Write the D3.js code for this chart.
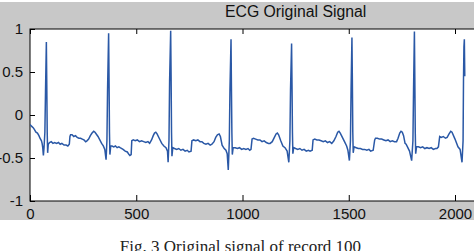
<!DOCTYPE html>
<html lang="en">
  <head>
    <meta charset="UTF-8" />
    <title>ECG Original Signal</title>
    <script src="https://cdn.jsdelivr.net/npm/d3@7"></script>
    <style>
      html, body { margin: 0; padding: 0; background: #fff; overflow: hidden; }
      svg { display: block; }
    </style>
  </head>
  <body>
    <div id="chart"></div>
    <script>
      // chart texts
      const chartTitle = "ECG Original Signal";
      const caption = "Fig. 3 Original signal of record 100";

      // axis ticks
      const xTicks = [0, 500, 1000, 1500, 2000, 2500];
      const yTicks = [-1, -0.5, 0, 0.5, 1];

      // ECG trace: [sample, amplitude]
      const ecgTrace = [
        [0, -0.11], [7, -0.13], [16, -0.15], [21, -0.17], [28, -0.2], [35, -0.21],
        [42, -0.24], [47, -0.27], [54, -0.3], [57, -0.33], [60, -0.38], [63, -0.47],
        [66, -0.38], [70, -0.2], [73, 0.27], [77, 0.85], [79, 0.35], [81, -0.2],
        [83, -0.44], [86, -0.34], [92, -0.32], [100, -0.31], [108, -0.33], [116, -0.32],
        [125, -0.33], [134, -0.32], [142, -0.34], [150, -0.33], [160, -0.35], [170, -0.35],
        [178, -0.36], [185, -0.34], [188, -0.25], [191, -0.23], [198, -0.23], [206, -0.25],
        [214, -0.24], [222, -0.26], [230, -0.27], [238, -0.27], [246, -0.28], [254, -0.29],
        [262, -0.31], [268, -0.3], [276, -0.28], [284, -0.24], [292, -0.21], [300, -0.19],
        [306, -0.2], [320, -0.25], [337, -0.33], [345, -0.36], [352, -0.4], [358, -0.52],
        [362, -0.3], [365, 0.3], [370, 0.95], [372, 0.4], [374, -0.2], [376, -0.46],
        [380, -0.36], [386, -0.36], [394, -0.37], [402, -0.36], [410, -0.38], [418, -0.37],
        [424, -0.38], [438, -0.4], [448, -0.42], [458, -0.43], [466, -0.46], [470, -0.47],
        [476, -0.46], [479, -0.3], [486, -0.29], [495, -0.3], [505, -0.29], [515, -0.31],
        [525, -0.3], [535, -0.31], [545, -0.32], [555, -0.31], [563, -0.33], [572, -0.29],
        [580, -0.24], [586, -0.21], [592, -0.2], [598, -0.22], [608, -0.27], [620, -0.33],
        [630, -0.36], [640, -0.38], [647, -0.42], [650, -0.55], [654, -0.3], [657, 0.4],
        [662, 0.98], [664, 0.45], [666, -0.2], [668, -0.48], [672, -0.38], [680, -0.39],
        [690, -0.4], [700, -0.39], [710, -0.41], [720, -0.4], [730, -0.42], [740, -0.41],
        [748, -0.43], [758, -0.42], [762, -0.3], [770, -0.29], [780, -0.3], [790, -0.29],
        [800, -0.31], [809, -0.31], [818, -0.33], [828, -0.34], [838, -0.33], [848, -0.35],
        [856, -0.34], [866, -0.31], [874, -0.26], [882, -0.23], [890, -0.22], [896, -0.25],
        [904, -0.35], [914, -0.39], [922, -0.41], [928, -0.45], [933, -0.64], [938, -0.3],
        [941, 0.3], [946, 0.88], [948, 0.3], [950, -0.2], [952, -0.46], [956, -0.38],
        [966, -0.38], [976, -0.39], [986, -0.38], [996, -0.4], [1006, -0.39], [1016, -0.4],
        [1026, -0.39], [1034, -0.41], [1040, -0.4], [1045, -0.28], [1052, -0.27], [1062, -0.28],
        [1072, -0.29], [1082, -0.29], [1092, -0.31], [1102, -0.3], [1112, -0.32], [1122, -0.33],
        [1130, -0.33], [1140, -0.31], [1150, -0.26], [1158, -0.22], [1164, -0.21], [1170, -0.23],
        [1180, -0.3], [1190, -0.36], [1200, -0.38], [1210, -0.42], [1218, -0.55], [1223, -0.3],
        [1226, 0.3], [1231, 0.83], [1233, 0.35], [1235, -0.2], [1237, -0.45], [1241, -0.38],
        [1250, -0.39], [1260, -0.4], [1270, -0.39], [1280, -0.41], [1290, -0.4], [1300, -0.42],
        [1310, -0.41], [1318, -0.42], [1328, -0.41], [1332, -0.29], [1340, -0.28], [1350, -0.29],
        [1360, -0.29], [1370, -0.3], [1380, -0.31], [1390, -0.3], [1400, -0.32], [1410, -0.31],
        [1420, -0.33], [1430, -0.3], [1440, -0.25], [1448, -0.2], [1454, -0.19], [1460, -0.21],
        [1470, -0.26], [1480, -0.31], [1490, -0.36], [1496, -0.41], [1503, -0.53], [1508, -0.3],
        [1511, 0.3], [1515, 0.9], [1517, 0.4], [1519, -0.2], [1521, -0.44], [1525, -0.37],
        [1535, -0.38], [1545, -0.39], [1555, -0.39], [1565, -0.4], [1575, -0.4], [1585, -0.41],
        [1595, -0.4], [1603, -0.42], [1615, -0.41], [1622, -0.29], [1626, -0.27], [1635, -0.27],
        [1645, -0.28], [1655, -0.28], [1665, -0.29], [1675, -0.3], [1685, -0.29], [1695, -0.31],
        [1705, -0.3], [1715, -0.31], [1725, -0.31], [1732, -0.27], [1740, -0.21], [1746, -0.19],
        [1752, -0.2], [1758, -0.24], [1765, -0.33], [1770, -0.34], [1778, -0.38], [1786, -0.42],
        [1796, -0.53], [1802, -0.3], [1805, 0.3], [1809, 0.97], [1811, 0.4], [1813, -0.2],
        [1815, -0.45], [1819, -0.37], [1828, -0.37], [1838, -0.38], [1848, -0.37], [1858, -0.39],
        [1868, -0.38], [1878, -0.39], [1888, -0.38], [1898, -0.4], [1908, -0.39], [1915, -0.39],
        [1922, -0.37], [1928, -0.25], [1935, -0.26], [1945, -0.25], [1955, -0.27], [1963, -0.26],
        [1972, -0.22], [1980, -0.19], [1986, -0.2], [2000, -0.28], [2014, -0.37], [2024, -0.4],
        [2033, -0.55], [2038, -0.3], [2040, 0.41], [2042, 0.79], [2044, 0.88], [2046, 0.45]
      ];

      const W = 474, H = 251;
      const plot = { left: 30, top: 29, bottom: 201, right: 561.25 };

      const svg = d3.select("#chart").append("svg")
        .attr("width", W).attr("height", H);

      // figure background (MATLAB grey) and white caption strip
      svg.append("rect").attr("width", W).attr("height", H).attr("fill", "#fff");
      svg.append("rect").attr("x", 0).attr("y", 2).attr("width", W).attr("height", 218)
        .attr("fill", "#c8c8c8");

      const x = d3.scaleLinear().domain([0, 2500]).range([plot.left, plot.right]);
      const y = d3.scaleLinear().domain([-1, 1]).range([plot.bottom, plot.top]);

      // axes box
      svg.append("rect")
        .attr("x", plot.left).attr("y", plot.top)
        .attr("width", plot.right - plot.left).attr("height", plot.bottom - plot.top)
        .attr("fill", "#fff").attr("stroke", "#000").attr("stroke-width", 1);

      svg.append("clipPath").attr("id", "clip")
        .append("rect")
        .attr("x", plot.left).attr("y", plot.top)
        .attr("width", plot.right - plot.left).attr("height", plot.bottom - plot.top);

      // the trace
      const line = d3.line().x(d => x(d[0])).y(d => y(d[1]));
      svg.append("path")
        .datum(ecgTrace)
        .attr("clip-path", "url(#clip)")
        .attr("d", line)
        .attr("fill", "none")
        .attr("stroke", "#2a58a6")
        .attr("stroke-width", 1.5)
        .attr("stroke-linejoin", "miter");

      const fmt = d => String(d);
      const font = "'Liberation Sans', Arial, Helvetica, sans-serif";

      const styleAxis = g => {
        g.select(".domain").remove();
        g.selectAll(".tick line").attr("stroke", "#000");
        g.selectAll(".tick text")
          .attr("fill", "#111")
          .style("font-family", font)
          .style("font-size", "15px");
      };

      // bottom axis, ticks point inward
      svg.append("g")
        .attr("transform", `translate(0,${plot.bottom})`)
        .call(d3.axisBottom(x).tickValues(xTicks).tickFormat(fmt)
          .tickSizeInner(-6).tickSizeOuter(0).tickPadding(7))
        .call(styleAxis);

      // top axis, ticks only
      svg.append("g")
        .attr("transform", `translate(0,${plot.top})`)
        .call(d3.axisTop(x).tickValues(xTicks).tickFormat("")
          .tickSizeInner(-5).tickSizeOuter(0))
        .call(styleAxis);

      // left axis
      svg.append("g")
        .attr("transform", `translate(${plot.left},0)`)
        .call(d3.axisLeft(y).tickValues(yTicks).tickFormat(fmt)
          .tickSizeInner(-5).tickSizeOuter(0).tickPadding(7))
        .call(styleAxis);

      // title, centred over the full axes box
      svg.append("text")
        .attr("x", (plot.left + plot.right) / 2)
        .attr("y", 16.5)
        .attr("text-anchor", "middle")
        .style("font-family", font)
        .style("font-size", "15.8px")
        .attr("fill", "#111")
        .text(chartTitle);

      // figure caption
      svg.append("text")
        .attr("x", 240.5)
        .attr("y", 252)
        .attr("text-anchor", "middle")
        .style("font-family", "'Liberation Serif', 'Times New Roman', serif")
        .style("font-size", "17px")
        .attr("fill", "#222")
        .text(caption);
    </script>
  </body>
</html>
